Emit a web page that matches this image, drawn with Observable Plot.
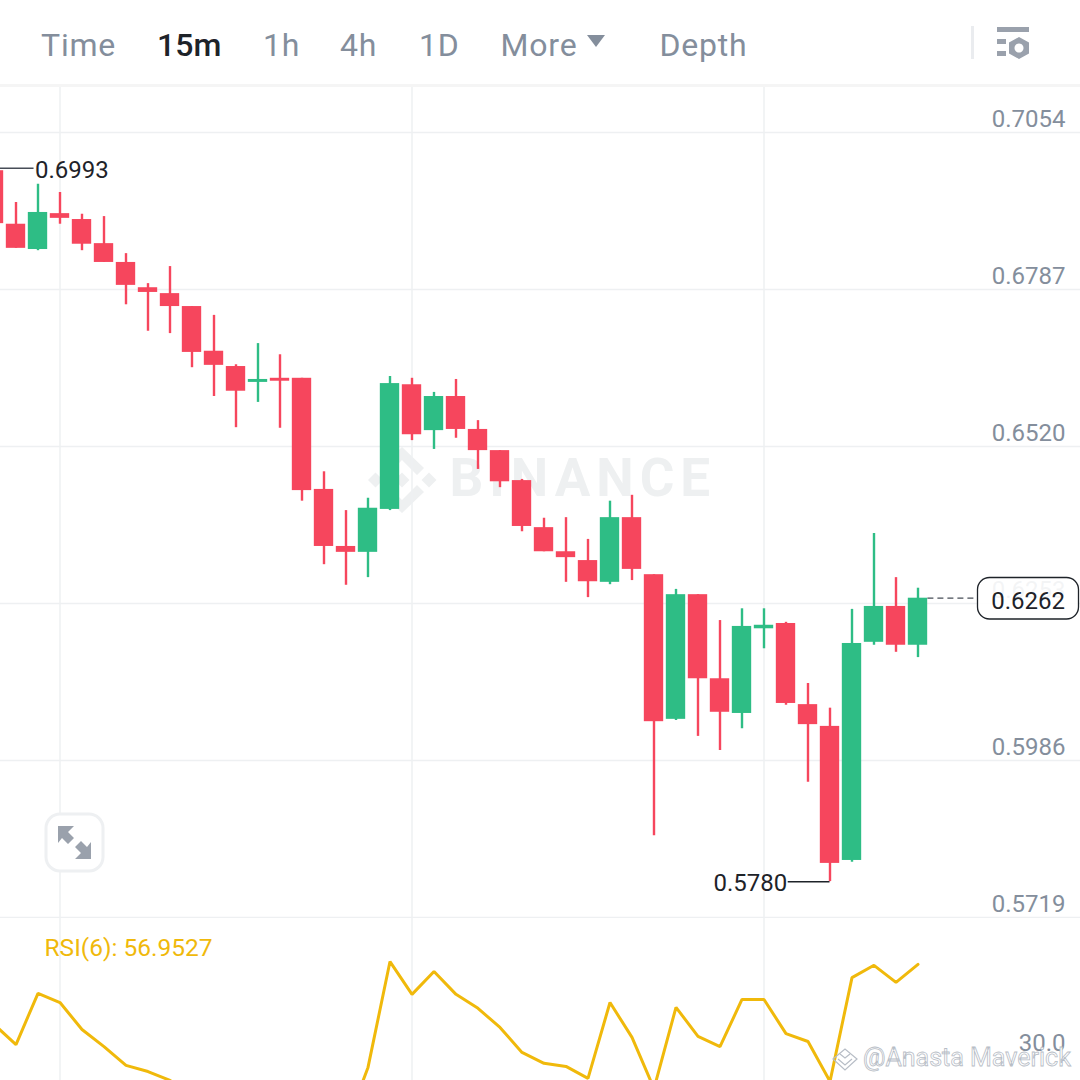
<!DOCTYPE html>
<html>
<head>
<meta charset="utf-8">
<script src="https://cdn.jsdelivr.net/npm/d3@7"></script>
<script src="https://cdn.jsdelivr.net/npm/@observablehq/plot@0.6"></script>
<style>
html,body{margin:0;padding:0;background:#fff;width:1080px;height:1080px;overflow:hidden}
#stage{position:relative;width:1080px;height:1080px;font-family:Roboto,sans-serif}
#stage>*{position:absolute;left:0}
#stage svg{display:block}
</style>
</head>
<body>
<div id="stage"></div>
<script>
// ---- Candles, oldest first: high, top of body, bottom of body, low
const highs = [.6993,.6935,.6966,.6952,.6915,.6911,.6848,.6797,.6826,.6758,.6743,.6659,.6695,.6676,.6636,.6477,.6411,.6432,.6639,.6636,.6612,.6634,.6564,.6513,.6464,.6398,.6399,.6362,.6427,.6437,.6302,.6277,.6268,.6224,.6244,.6244,.6221,.6117,.6075,.6243,.6372,.6297,.6279];
const bodyTops = [.6989,.6898,.6918,.6916,.6906,.6865,.6833,.6790,.6780,.6758,.6682,.6656,.6634,.6636,.6636,.6447,.6350,.6415,.6627,.6625,.6605,.6605,.6549,.6513,.6462,.6382,.6341,.6326,.6399,.6399,.6302,.6268,.6268,.6125,.6214,.6216,.6219,.6081,.6044,.6185,.6248,.6248,.6262];
const bodyBottoms = [.6899,.6857,.6855,.6908,.6864,.6833,.6794,.6782,.6758,.6680,.6658,.6614,.6629,.6631,.6445,.6350,.6340,.6340,.6413,.6540,.6547,.6549,.6513,.6460,.6384,.6341,.6331,.6290,.6289,.6311,.6052,.6056,.6125,.6068,.6066,.6210,.6083,.6047,.5811,.5816,.6187,.6182,.6182];
const lows = [.6899,.6857,.6853,.6898,.6853,.6833,.6761,.6716,.6712,.6654,.6605,.6552,.6595,.6551,.6427,.6319,.6284,.6297,.6411,.6530,.6515,.6534,.6481,.6450,.6375,.6341,.6289,.6263,.6285,.6292,.5858,.6054,.6027,.6003,.6040,.6176,.6080,.5949,.5780,.5813,.6182,.6170,.6161];
const rising = [2,12,17,18,20,28,31,34,35,39,40,42];
const rsiValues = [39.4,33.5,48.5,45.8,37.9,32.9,27.4,25.6,23.0,18.6,15.7,12.7,13.6,14.2,2.5,3.9,9.5,26.8,57.8,48.2,54.9,48.2,44.1,38.5,31.2,28.0,27.1,23.6,45.8,35.6,20.6,44.4,35.9,32.9,46.7,46.7,36.7,34.4,22.7,53.1,56.7,51.7,56.95];
// ---- Axis and label values
const priceTicks = [.7054,.6787,.6520,.6253,.5986,.5719];
const gridCandles = [3,19,35];
const lastPrice = 0.6262, highPrice = 0.6993, lowPrice = 0.5780;
const highCandle = 0, lowCandle = 38;
const rsiTick = 30, rsiLabel = "RSI(6): 56.9527";
const tabs = [["Time",41,0],["15m",157,1],["1h",263,0],["4h",340,0],["1D",419,0],["More",500.5,0],["Depth",659.5,0]];

const RED="#F6465D", GREEN="#2EBD85", GREY="#848E9C", INK="#1E2329", GRID="#EEF0F2", GOLD="#F0B90B";
const candles = highs.map((h,i)=>({i,h,top:bodyTops[i],bottom:bodyBottoms[i],l:lows[i],color:rising.includes(i)?GREEN:RED}));
const xDomain=[6.5/22,1086.5/22];
const font={fontFamily:"Roboto,sans-serif"};

const pricePlot = Plot.plot({
  width:1080,height:833,margin:0,marginBottom:1,
  style:{background:"transparent",...font},
  x:{domain:xDomain,axis:null},
  y:{domain:[.5719,.7054+47*.0267/157],axis:null},
  marks:[
    Plot.ruleY(priceTicks,{stroke:GRID,strokeWidth:1.5}),
    Plot.ruleX(gridCandles,{stroke:GRID,strokeWidth:1.5}),
    Plot.text(["BINANCE"],{frameAnchor:"top-left",dx:449,dy:394,textAnchor:"start",lineAnchor:"middle",fontSize:53,fontWeight:700,fill:"#EEF0F1"}),
    Plot.ruleX(candles,{x:"i",y1:"l",y2:"h",stroke:"color",strokeWidth:2.4}),
    Plot.rect(candles,{x1:d=>d.i-.44,x2:d=>d.i+.44,y1:"bottom",y2:"top",fill:"color"}),
    Plot.text(priceTicks,{y:d=>d,text:d=>d.toFixed(4),frameAnchor:"right",dx:-15,dy:-13,textAnchor:"end",fill:GREY,fontSize:24}),
    // high marker
    Plot.ruleY([highPrice],{x1:xDomain[0],x2:highCandle+1.82,stroke:"#474D57",strokeWidth:1.5}),
    Plot.text([highPrice],{x:highCandle+1.82,y:d=>d,text:d=>d.toFixed(4),dx:1,dy:2,textAnchor:"start",fill:INK,fontSize:24}),
    // low marker
    Plot.ruleY([lowPrice],{x1:lowCandle-1.9,x2:lowCandle,stroke:INK,strokeWidth:1.5}),
    Plot.text([lowPrice],{x:lowCandle-1.9,y:d=>d,text:d=>d.toFixed(4),dx:-1,dy:2,textAnchor:"end",fill:INK,fontSize:24}),
    // last price leader
    Plot.ruleY([lastPrice],{x1:42.45,x2:44.7,stroke:"#474D57",strokeWidth:1.3,strokeDasharray:"6 4"})
  ]
});
pricePlot.style.top="85px";
d3.select(pricePlot).selectAll("text").filter(function(){return this.textContent==="BINANCE"}).style("letter-spacing","6px");

const rsiPlot = Plot.plot({
  width:1080,height:163,margin:0,
  style:{background:"transparent",...font},
  x:{domain:xDomain,axis:null},
  y:{domain:[22.97,70.7],axis:null},
  marks:[
    Plot.ruleX(gridCandles,{stroke:GRID,strokeWidth:1.5}),
    Plot.line(rsiValues,{x:(d,i)=>i,y:d=>d,stroke:GOLD,strokeWidth:3,clip:true,strokeLinejoin:"miter"}),
    Plot.text([rsiLabel],{frameAnchor:"top-left",dx:44,dy:31,textAnchor:"start",lineAnchor:"middle",fill:GOLD,fontSize:24.5}),
    Plot.text([rsiTick],{y:d=>d,text:d=>d.toFixed(1),frameAnchor:"right",dx:-15,dy:-13,textAnchor:"end",fill:GREY,fontSize:24})
  ]
});
rsiPlot.style.top="917px";

const diamond=(cx,cy,s,fill)=>`<rect x="${cx-s/2}" y="${cy-s/2}" width="${s}" height="${s}" transform="rotate(45 ${cx} ${cy})" fill="${fill}"/>`;

const under=`<svg width="1080" height="1080" style="top:0">
${diamond(375.5,480,10.6,"#EEF0F1")}${diamond(402,480,10.6,"#EEF0F1")}${diamond(429,480,10.6,"#EEF0F1")}
<path d="M402 447 L424 468 L417 475 L402 460 L387 475 L380 468Z" fill="#EEF0F1"/>
<path d="M402 513 L424 492 L417 485 L402 500 L387 485 L380 492Z" fill="#EEF0F1"/>
</svg>`;

const tabTexts=tabs.map(([t,x,b])=>`<text x="${x}" y="56" font-size="32" letter-spacing="${b?0:0.8}" font-weight="${b?500:400}" fill="${b?INK:GREY}">${t}</text>`).join("");
const yLast=85+pricePlot.scale("y").apply(lastPrice);
const over=`<svg width="1080" height="1080" style="top:0;pointer-events:none;font-family:Roboto,sans-serif">
<rect x="0" y="84" width="1080" height="3" fill="#F5F5F5"/>
${tabTexts}
<path d="M587 35 H605 L596 47Z" fill="${GREY}"/>
<rect x="971" y="26" width="3" height="33" fill="#EAECEF"/>
<g fill="#9AA1AC">
<rect x="997" y="27" width="32" height="5"/>
<rect x="997" y="39" width="9" height="5"/><rect x="997" y="51" width="9" height="5"/>
<path fill-rule="evenodd" d="M1019 37 L1029 42.5 V53.5 L1019 59 L1009 53.5 V42.5Z M1019 43.5 a4.5 4.5 0 1 0 .01 0Z"/>
</g>
<rect x="46" y="814" width="57" height="57" rx="14" fill="#fff" stroke="#EEF0F2" stroke-width="3"/>
<g fill="#9AA1AC">
<path d="M58 826 H74 L68 832 L74 838 L68 844 L62 838 L58 843Z"/>
<path d="M91 859 H75 L81 853 L75 847 L81 841 L87 847 L91 842Z"/>
</g>
<rect x="977.5" y="577.5" width="101" height="41.5" rx="12" fill="#fff" fill-opacity=".9" stroke="${INK}" stroke-width="1.3"/>
<text x="1065" y="${yLast+11.5}" text-anchor="end" font-size="24" fill="${INK}">${lastPrice.toFixed(4)}</text>
<g fill="none" stroke="#B7BDC6" stroke-width="1.2">
<path d="M833 1059 L845 1049 L857 1059 L845 1070Z"/>
<path d="M838 1059 L845 1065 L852 1059"/>
<path d="M840 1054 L845 1058 L850 1054"/>
</g>
<text x="863" y="1066" font-size="25" fill="#fff" stroke="#B7BDC6" stroke-width=".8">@Anasta Maverick</text>
</svg>`;

const stage=document.getElementById("stage");
stage.insertAdjacentHTML("beforeend",under);
stage.append(pricePlot,rsiPlot);
stage.insertAdjacentHTML("beforeend",over);
</script>
</body>
</html>
